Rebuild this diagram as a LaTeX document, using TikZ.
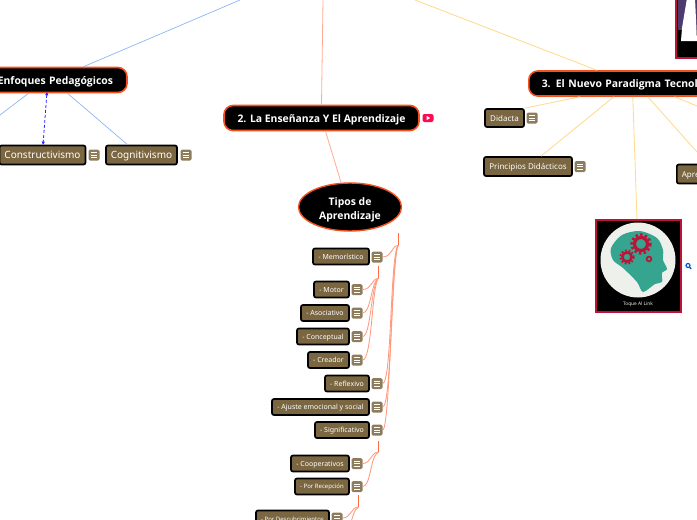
\documentclass[tikz,border=0pt]{standalone}
\usepackage{fontspec}
\setmainfont{Noto Sans}
\newfontfamily\topicfont{Open Sans}
\usetikzlibrary{shapes.geometric,arrows.meta,calc}
\definecolor{boxbrown}{HTML}{7A6640}
\definecolor{edgeorange}{HTML}{F4511E}
\definecolor{lineblue}{HTML}{8DB6F2}
\definecolor{linesalmon}{HTML}{FFAB94}
\definecolor{lineyellow}{HTML}{FFDC94}
\definecolor{listorange}{HTML}{FF9A7E}
\definecolor{tickorange}{HTML}{FF6E42}
\definecolor{imgred}{HTML}{BE1238}
\definecolor{headteal}{HTML}{35A58F}
\definecolor{discgrey}{HTML}{EEF0EC}
\definecolor{tubered}{HTML}{FF0A4E}
\definecolor{cornerviolet}{HTML}{4E3B6E}
\tikzset{
  topicbox/.style={draw=edgeorange,fill=black,line width=1.6pt,rounded corners=9pt,text=white,inner sep=0pt,
    font=\fontsize{10.4}{12}\topicfont\bfseries,minimum height=25pt,text height=9.5pt,text depth=1.5pt},
  subbox/.style={draw=black,fill=boxbrown,line width=1.7pt,rounded corners=2pt,text=white,inner sep=0pt,minimum height=18pt},
  bigsub/.style={subbox,font=\fontsize{10}{11}\selectfont,minimum height=19pt,text height=9.3pt,text depth=1.5pt},
  midsub/.style={subbox,font=\fontsize{8}{9}\selectfont,text height=7.6pt,text depth=1.2pt},
  listbox/.style={subbox,font=\fontsize{7}{8}\selectfont,minimum height=16pt,text height=6.6pt,text depth=1pt},
  tinybox/.style={subbox,font=\fontsize{6}{7}\selectfont,minimum height=16pt,text height=5.6pt,text depth=.8pt},
  notes/.style={fill=boxbrown!85,rounded corners=1.5pt,minimum size=11pt,inner sep=0pt,
    path picture={
      \draw[white,line width=.7pt]
        ([shift={(-3.2pt,-2.6pt)}]path picture bounding box.center) -- ++(6.4pt,0)
        ([shift={(-3.2pt,0pt)}]path picture bounding box.center) -- ++(6.4pt,0)
        ([shift={(-3.2pt,2.6pt)}]path picture bounding box.center) -- ++(6.4pt,0);
    }},
  blueline/.style={lineblue,line width=.7pt},
  salmonline/.style={linesalmon,line width=.8pt},
  yellowline/.style={lineyellow,line width=.9pt},
  listline/.style={listorange,line width=.85pt},
  listtick/.style={tickorange,line width=1.5pt},
  gear/.style={imgred,line width=1.7pt},
}
\begin{document}
\begin{tikzpicture}[x=1pt,y=-1pt]
  \useasboundingbox (0,0) rectangle (697,520);

  % free ends
  \coordinate (rootblue) at (240,0);
  \coordinate (rootsalmon) at (323,0);
  \coordinate (rootyellow) at (415,0);
  \coordinate (offleft) at (0,115);
  \coordinate (offright) at (697,152);
  \coordinate (offrighttop) at (697,106);
  \coordinate (offdown) at (343,545);

  % topics
  \node[topicbox,inner xsep=14pt,text width=119pt,align=right] (enfoques) at (53.5,80) {Enfoques Pedagógicos};
  \node[topicbox,minimum width=195pt] (ensenanza) at (321.5,118) {2. La Enseñanza Y El Aprendizaje};
  \node[topicbox,inner xsep=13pt,text width=172pt,align=left,anchor=west] (paradigma) at (528,83.5) {3. El Nuevo Paradigma Tecnol};
  \node[ellipse,draw=edgeorange,fill=black,line width=1.4pt,text=white,inner sep=0pt,minimum width=103pt,minimum height=48pt,
    align=center,font=\fontsize{10.4}{14}\topicfont\bfseries] (tipos) at (350,207) {\rule{0pt}{14pt}Tipos de\\Aprendizaje};

  % first topic
  \node[bigsub,minimum width=86pt] (constructivismo) at (42.5,155) {Constructivismo};
  \node[notes] (constructivismo-n) at (94,155) {};
  \node[bigsub,minimum width=71pt] (cognitivismo) at (141.5,155) {Cognitivismo};
  \node[notes] (cognitivismo-n) at (186,155) {};

  % third topic
  \node[midsub,minimum width=39pt] (didacta) at (504.5,118) {Didacta};
  \node[notes] (didacta-n) at (532,118) {};
  \node[midsub,minimum width=88pt,minimum height=19pt] (principios) at (528,166.5) {Principios Didácticos};
  \node[notes] (principios-n) at (580,166.5) {};
  \node[midsub,minimum height=19pt,inner xsep=5pt,text width=40pt,align=left,anchor=west] (aprendizaje) at (676,174) {Apre};

  % youtube mark
  \node[fill=tubered,rounded corners=2pt,minimum width=11pt,minimum height=8pt,inner sep=0pt] (video) at (428,118) {};
  \fill[white] (426.5,115.8) -- (430.2,118) -- (426.5,120.2) -- cycle;

  % list
  \node[listbox,minimum width=56pt] (memoristico) at (341,256.5) {- Memorístico};
  \node[notes] (memoristico-n) at (377,257) {};
  \node[listbox,minimum width=35pt] (motor) at (331.5,289.5) {- Motor};
  \node[notes] (motor-n) at (357,289.5) {};
  \node[listbox,minimum width=48pt] (asociativo) at (325,313) {- Asociativo};
  \node[notes] (asociativo-n) at (357,313) {};
  \node[listbox,minimum width=52pt] (conceptual) at (323,336.5) {- Conceptual};
  \node[notes] (conceptual-n) at (357,336.5) {};
  \node[listbox,minimum width=41pt] (creador) at (328.5,360) {- Creador};
  \node[notes] (creador-n) at (357,360) {};
  \node[listbox,minimum width=44pt] (reflexivo) at (347,383.5) {- Reflexivo};
  \node[notes] (reflexivo-n) at (377,383.5) {};
  \node[listbox,minimum width=97pt] (ajuste) at (320.5,407) {- Ajuste emocional y social};
  \node[notes] (ajuste-n) at (377,407) {};
  \node[listbox,minimum width=54pt] (significativo) at (342,430) {- Significativo};
  \node[notes] (significativo-n) at (377,430) {};
  \node[listbox,minimum width=58pt] (cooperativos) at (320,463.5) {- Cooperativos};
  \node[notes] (cooperativos-n) at (357,463.5) {};
  \node[tinybox,minimum width=54pt] (recepcion) at (322,486.5) {- Por Recepción};
  \node[notes] (recepcion-n) at (357,486.5) {};
  \node[tinybox,minimum width=73pt,minimum height=18pt] (descubrimientos) at (292.5,519.5) {- Por Descubrimientos};
  \node[notes] (descubrimientos-n) at (337,518) {};

  % ticks
  \coordinate (t1a) at (398.5,233); \coordinate (t1) at (398.5,245);
  \coordinate (t2a) at (378.5,266); \coordinate (t2) at (378.5,278);
  \coordinate (t3a) at (378.5,441); \coordinate (t3) at (378.5,452);
  \coordinate (t4a) at (358.5,495); \coordinate (t4) at (358.5,507);

  % list connectors
  \draw[listline] (t1) .. controls (392,245) and (392,257) .. (memoristico-n.east);
  \draw[listline] (t1) .. controls (390,250) and (392,383) .. (reflexivo-n.east);
  \draw[listline] (t1) .. controls (391,250) and (392,407) .. (ajuste-n.east);
  \draw[listline] (t1) .. controls (392,250) and (390,430) .. (significativo-n.east);
  \draw[listline] (t2) .. controls (372,278) and (372,289.5) .. (motor-n.east);
  \draw[listline] (t2) .. controls (371,282) and (371,313) .. (asociativo-n.east);
  \draw[listline] (t2) .. controls (371,284) and (371,336.5) .. (conceptual-n.east);
  \draw[listline] (t2) .. controls (372,284) and (372,360) .. (creador-n.east);
  \draw[listline] (t3) .. controls (371,452) and (371,463.5) .. (cooperativos-n.east);
  \draw[listline] (t3) .. controls (370,456) and (371,486.5) .. (recepcion-n.east);
  \draw[listline] (t4) .. controls (351,507) and (351,518) .. (descubrimientos-n.east);
  \draw[listline] (t4) .. controls (350,512) and (350,540) .. (offdown);
  \draw[listtick] (t1a) -- (t1);
  \draw[listtick] (t2a) -- (t2);
  \draw[listtick] (t3a) -- (t3);
  \draw[listtick] (t4a) -- (t4);

  % topic connectors
  \draw[blueline] (rootblue) -- ([xshift=30pt]enfoques.north);
  \draw[salmonline] (rootsalmon) -- (ensenanza.north);
  \draw[yellowline] (rootyellow) -- ([xshift=-31pt]paradigma.north);
  \draw[blueline] ([xshift=-25pt]enfoques.south) -- (offleft);
  \draw[blueline] ([xshift=14pt]enfoques.south) -- ([xshift=-14pt]cognitivismo.north);
  \draw[blue!85!white,line width=.8pt,densely dashed,{Latex[length=3.5pt,width=3.5pt]}-{Latex[length=3.5pt,width=3.5pt]}]
    ([xshift=-6.5pt,yshift=1.5pt]enfoques.south) -- ([xshift=.5pt,yshift=-.5pt]constructivismo.north);
  \draw[salmonline] ([xshift=4pt]ensenanza.south) -- ([xshift=-9pt]tipos.north);
  \draw[yellowline] ([xshift=-48pt]paradigma.south) -- (didacta.north east);
  \draw[yellowline] ([xshift=-14pt]paradigma.south) -- ([xshift=13pt]principios.north);
  \draw[yellowline] ([xshift=5pt]paradigma.south) -- (637,220) coordinate (imgtop);
  \draw[yellowline] ([xshift=20pt]paradigma.south) -- (offright);
  \draw[yellowline] ([xshift=47pt]paradigma.south) -- (offrighttop);

  % picture with the head
  \node[draw=imgred,fill=black,line width=1.6pt,minimum width=85pt,minimum height=92pt,inner sep=0pt] (headpic) at (638.5,266) {};
  \fill[discgrey] (638,260) circle (37.5);
  \fill[headteal] plot[smooth cycle,tension=.5] coordinates {(611,248) (622,235) (640,231) (657,238) (663,250) (663,260)
    (667,269) (662,273) (662,282) (655,284) (643,292) (637,282) (623,268) (613,260)};
  \draw[gear,line width=3.2pt] (641,244) circle (6.5);
  \draw[gear,line width=2.6pt,dash pattern=on 2.4pt off 2.4pt] (641,244) circle (9.4);
  \draw[gear,line width=2.4pt] (627,257) circle (4.6);
  \draw[gear,line width=2pt,dash pattern=on 1.8pt off 1.8pt] (627,257) circle (6.6);
  \draw[gear,line width=1.7pt] (649,259) circle (2.4);
  \node[text=discgrey,font=\fontsize{4.8}{6}\selectfont,inner sep=0pt] (headcaption) at (638,304.5) {Toque Al Link};

  % magnifier
  \draw[blue!55!cyan!80!black,line width=1.2pt] (688,265.5) circle (2);
  \draw[blue!55!cyan!80!black,line width=1.3pt] (689.6,267.2) -- (691.2,268.8);

  % picture in the corner
  \fill[black] (676,-2) rectangle (697,58);
  \fill[cornerviolet] (678,-2) -- (697,-2) -- (697,30) -- (678,30) -- cycle;
  \fill[white] (687,-2) -- (695,-2) -- (697,41) -- (681,41) -- (682,28) -- cycle;
  \draw[imgred,line width=1.6pt] (700,58) -- (676,58) -- (676,-2);
\end{tikzpicture}
\end{document}
